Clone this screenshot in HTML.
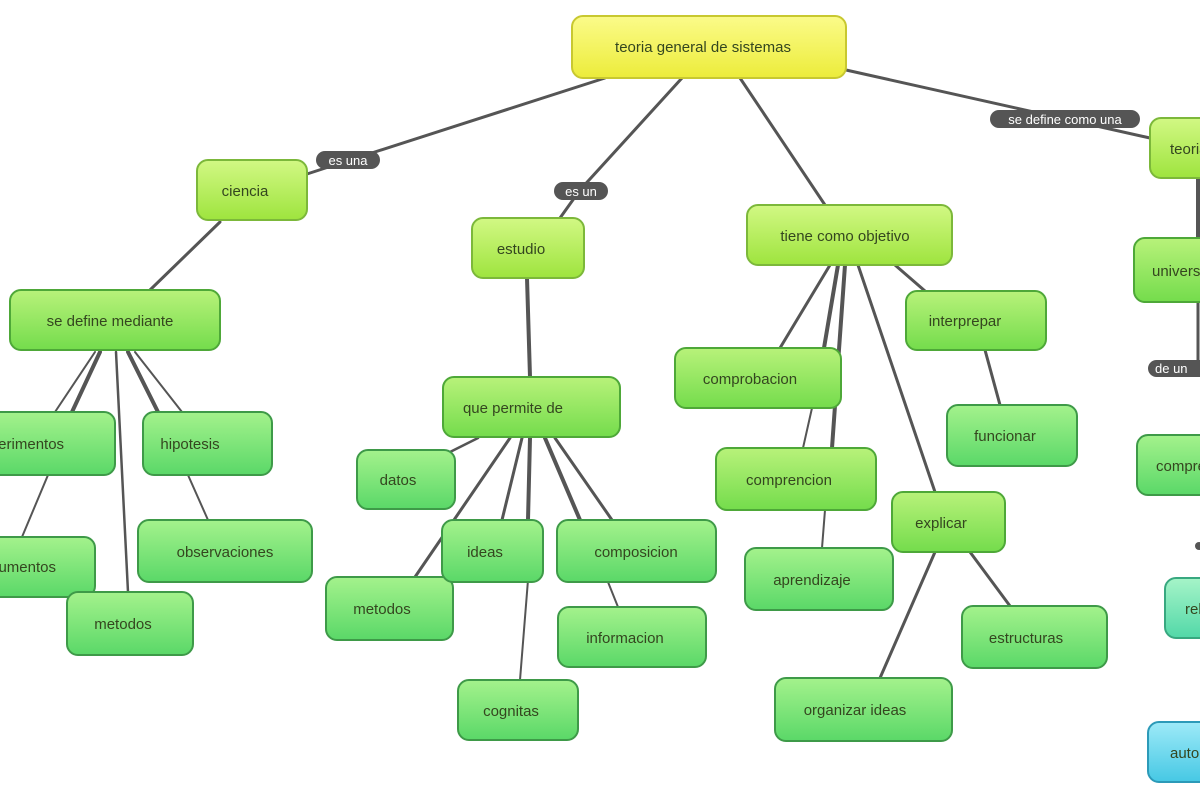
<!DOCTYPE html>
<html><head><meta charset="utf-8"><style>
html,body{margin:0;padding:0;background:#fff;width:1200px;height:800px;overflow:hidden}
svg{display:block}
text{font-family:"Liberation Sans",sans-serif;font-size:15px;fill:#34461f}
.l{font-size:13px;fill:#fff}
</style></head><body>
<svg width="1200" height="800" viewBox="0 0 1200 800" xmlns="http://www.w3.org/2000/svg">
<defs>
<linearGradient id="y" x1="0" y1="0" x2="0" y2="1"><stop offset="0" stop-color="#fbfb8a"/><stop offset="1" stop-color="#ecec3a"/></linearGradient>
<linearGradient id="lm" x1="0" y1="0" x2="0" y2="1"><stop offset="0" stop-color="#d2f884"/><stop offset="1" stop-color="#9ee43e"/></linearGradient>
<linearGradient id="g" x1="0" y1="0" x2="0" y2="1"><stop offset="0" stop-color="#a4f28c"/><stop offset="1" stop-color="#5ad868"/></linearGradient>
<linearGradient id="g2" x1="0" y1="0" x2="0" y2="1"><stop offset="0" stop-color="#b8f27a"/><stop offset="1" stop-color="#74dc4c"/></linearGradient>
<linearGradient id="t" x1="0" y1="0" x2="0" y2="1"><stop offset="0" stop-color="#a6f4c8"/><stop offset="1" stop-color="#52d8a8"/></linearGradient>
<linearGradient id="c" x1="0" y1="0" x2="0" y2="1"><stop offset="0" stop-color="#9eeaf8"/><stop offset="1" stop-color="#46c8e4"/></linearGradient>
</defs>
<g stroke="#555" stroke-width="3" fill="none" stroke-linecap="round">
<polyline points="605,78 350,160 307,174"/>
<polyline points="682,78 580,190 560,218"/>
<line x1="740" y1="78" x2="825" y2="205"/>
<polyline points="846,70 1065,119 1150,138"/>
<line x1="220" y1="222" x2="150" y2="290"/>
<line x1="527" y1="278" x2="530" y2="377" stroke-width="4"/>
<line x1="1198" y1="178" x2="1198" y2="238" stroke-width="4"/>
<line x1="1198" y1="302" x2="1198" y2="362"/>
<line x1="985" y1="350" x2="1000" y2="405"/>
<line x1="935" y1="552" x2="880" y2="678"/>
<line x1="970" y1="552" x2="1010" y2="606"/>
<line x1="895" y1="265" x2="925" y2="291"/>
</g>
<g stroke="#555" fill="none" stroke-linecap="round">
<line x1="95" y1="352" x2="55" y2="412" stroke-width="2"/>
<line x1="100" y1="352" x2="72" y2="412" stroke-width="4"/>
<line x1="116" y1="352" x2="128" y2="592" stroke-width="2.5"/>
<line x1="128" y1="352" x2="158" y2="412" stroke-width="4"/>
<line x1="135" y1="352" x2="182" y2="412" stroke-width="2"/>
<line x1="48" y1="475" x2="22" y2="537" stroke-width="2"/>
<line x1="188" y1="475" x2="208" y2="520" stroke-width="2"/>
<line x1="478" y1="438" x2="450" y2="452" stroke-width="2.5"/>
<line x1="510" y1="438" x2="415" y2="577" stroke-width="3"/>
<line x1="522" y1="438" x2="502" y2="520" stroke-width="3"/>
<line x1="530" y1="438" x2="528" y2="520" stroke-width="4"/>
<line x1="528" y1="580" x2="520" y2="680" stroke-width="2"/>
<line x1="545" y1="438" x2="580" y2="520" stroke-width="4"/>
<line x1="555" y1="438" x2="612" y2="520" stroke-width="3"/>
<line x1="608" y1="582" x2="618" y2="607" stroke-width="2"/>
<line x1="830" y1="265" x2="780" y2="348" stroke-width="3"/>
<line x1="838" y1="265" x2="824" y2="348" stroke-width="4"/>
<line x1="845" y1="265" x2="832" y2="448" stroke-width="4"/>
<line x1="812" y1="408" x2="803" y2="448" stroke-width="2"/>
<line x1="825" y1="510" x2="822" y2="548" stroke-width="2"/>
<line x1="858" y1="265" x2="935" y2="492" stroke-width="3"/>
</g>
<g stroke-width="2">
<rect x="572" y="16" width="274" height="62" rx="11" fill="url(#y)" stroke="#c8c830"/>
<rect x="197" y="160" width="110" height="60" rx="11" fill="url(#lm)" stroke="#7cb83a"/>
<rect x="472" y="218" width="112" height="60" rx="11" fill="url(#lm)" stroke="#7cb83a"/>
<rect x="747" y="205" width="205" height="60" rx="11" fill="url(#lm)" stroke="#7cb83a"/>
<rect x="1150" y="118" width="70" height="60" rx="11" fill="url(#lm)" stroke="#7cb83a"/>
<rect x="10" y="290" width="210" height="60" rx="11" fill="url(#g2)" stroke="#4ea838"/>
<rect x="443" y="377" width="177" height="60" rx="11" fill="url(#g2)" stroke="#4ea838"/>
<rect x="1134" y="238" width="80" height="64" rx="11" fill="url(#g2)" stroke="#4ea838"/>
<rect x="906" y="291" width="140" height="59" rx="11" fill="url(#g2)" stroke="#4ea838"/>
<rect x="675" y="348" width="166" height="60" rx="11" fill="url(#g2)" stroke="#4ea838"/>
<rect x="716" y="448" width="160" height="62" rx="11" fill="url(#g2)" stroke="#4ea838"/>
<rect x="892" y="492" width="113" height="60" rx="11" fill="url(#g2)" stroke="#4ea838"/>
<g fill="url(#g)" stroke="#3e9a48">
<rect x="-40" y="412" width="155" height="63" rx="11"/>
<rect x="143" y="412" width="129" height="63" rx="11"/>
<rect x="-40" y="537" width="135" height="60" rx="11"/>
<rect x="138" y="520" width="174" height="62" rx="11"/>
<rect x="67" y="592" width="126" height="63" rx="11"/>
<rect x="357" y="450" width="98" height="59" rx="11"/>
<rect x="557" y="520" width="159" height="62" rx="11"/>
<rect x="326" y="577" width="127" height="63" rx="11"/>
<rect x="442" y="520" width="101" height="62" rx="11"/>
<rect x="558" y="607" width="148" height="60" rx="11"/>
<rect x="458" y="680" width="120" height="60" rx="11"/>
<rect x="947" y="405" width="130" height="61" rx="11"/>
<rect x="745" y="548" width="148" height="62" rx="11"/>
<rect x="962" y="606" width="145" height="62" rx="11"/>
<rect x="775" y="678" width="177" height="63" rx="11"/>
<rect x="1137" y="435" width="80" height="60" rx="11"/>
</g>
<rect x="1165" y="578" width="50" height="60" rx="11" fill="url(#t)" stroke="#38a880"/>
<rect x="1148" y="722" width="70" height="60" rx="11" fill="url(#c)" stroke="#2c9ab8"/>
</g>
<g fill="#555">
<rect x="316" y="151" width="64" height="18" rx="9"/>
<rect x="554" y="182" width="54" height="18" rx="9"/>
<rect x="990" y="110" width="150" height="18" rx="9"/>
<rect x="1148" y="360" width="60" height="17" rx="8.5"/>
<circle cx="1199" cy="546" r="4"/>
</g>
<g text-anchor="middle">
<text class="l" x="348" y="165">es una</text>
<text class="l" x="581" y="196">es un</text>
<text class="l" x="1065" y="124">se define como una</text>
<text class="l" x="1155" y="373" text-anchor="start">de un</text>
</g>
<g text-anchor="middle">
<text x="703" y="52">teoria general de sistemas</text>
<text x="245" y="196">ciencia</text>
<text x="521" y="254">estudio</text>
<text x="845" y="241">tiene como objetivo</text>
<text x="1170" y="154" text-anchor="start">teoria</text>
<text x="110" y="326">se define mediante</text>
<text x="513" y="413">que permite de</text>
<text x="1152" y="276" text-anchor="start">universo</text>
<text x="965" y="326">interprepar</text>
<text x="750" y="384">comprobacion</text>
<text x="789" y="485">comprencion</text>
<text x="941" y="528">explicar</text>
<text x="-26" y="449" text-anchor="start">experimentos</text>
<text x="190" y="449">hipotesis</text>
<text x="56" y="572" text-anchor="end">instrumentos</text>
<text x="225" y="557">observaciones</text>
<text x="123" y="629">metodos</text>
<text x="398" y="485">datos</text>
<text x="636" y="557">composicion</text>
<text x="382" y="614">metodos</text>
<text x="485" y="557">ideas</text>
<text x="625" y="643">informacion</text>
<text x="511" y="716">cognitas</text>
<text x="1005" y="441">funcionar</text>
<text x="812" y="585">aprendizaje</text>
<text x="1026" y="643">estructuras</text>
<text x="855" y="715">organizar ideas</text>
<text x="1156" y="471" text-anchor="start">comprension</text>
<text x="1185" y="614" text-anchor="start">relaciones</text>
<text x="1170" y="758" text-anchor="start">autonomia</text>
</g>
</svg>
</body></html>
